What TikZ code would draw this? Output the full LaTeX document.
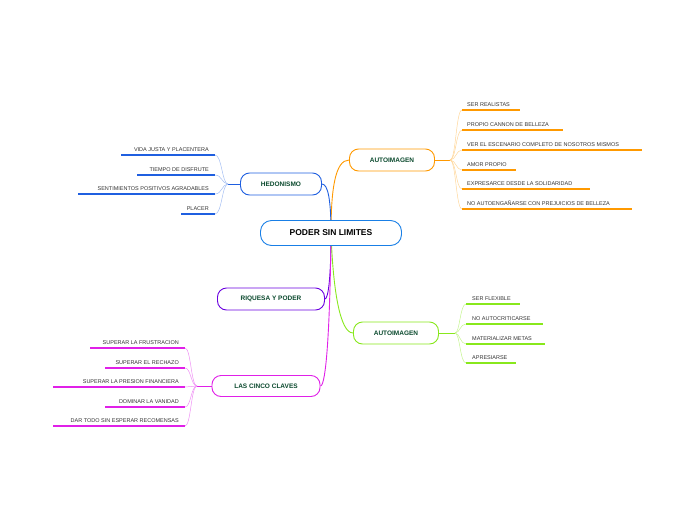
\documentclass[tikz,border=0pt]{standalone}
\usepackage{fontspec}
\setmainfont{Liberation Sans}
\begin{document}
\begin{tikzpicture}[x=1pt,y=-1pt,
 main/.style={draw,rounded corners=9pt,line width=0.9pt,fill=white,minimum height=22pt,font=\fontsize{6.5}{8}\selectfont\bfseries,text=tgreen},
 leaf/.style={font=\fontsize{5.5}{7}\selectfont,text=black!80,inner sep=1pt}]
\definecolor{tgreen}{HTML}{0B4A2E}
\definecolor{cor}{HTML}{FF9900}
\definecolor{cbl}{HTML}{1F5FE0}
\definecolor{cpu}{HTML}{6A00E0}
\definecolor{cgr}{HTML}{88E81C}
\definecolor{cma}{HTML}{E020E8}
\useasboundingbox (0,0) rectangle (697,520);
\node[main,draw=cor,minimum width=85pt] (a1) at (392,160) {AUTOIMAGEN};
\node[main,draw=cbl,minimum width=81pt] (he) at (281,184) {HEDONISMO};
\node[main,draw=cpu,minimum width=107pt] (rq) at (271,299) {RIQUESA Y PODER};
\node[main,draw=cgr,minimum width=85pt] (a2) at (396,333) {AUTOIMAGEN};
\node[main,draw=cma,minimum width=108pt,minimum height=21pt] (cc) at (266,386) {LAS CINCO CLAVES};
\coordinate (c0) at (331,233);
\draw[cor,line width=0.9pt] (c0) .. controls (331,190) and (335,160) .. (a1.west);
\draw[cbl,line width=0.9pt] (c0) .. controls (331,200) and (328,184) .. (he.east);
\draw[cpu,line width=0.9pt] (c0) .. controls (331,280) and (328,299) .. (rq.east);
\draw[cgr,line width=0.9pt] (c0) .. controls (333,290) and (340,333) .. (a2.west);
\draw[cma,line width=0.9pt] (c0) .. controls (330,330) and (326,386) .. (cc.east);
\node[main,draw=cbl!80!cyan,minimum width=141pt,minimum height=25pt,rounded corners=11pt,text=black,font=\fontsize{8.5}{10}\selectfont\bfseries] (c) at (331,233) {PODER SIN LIMITES};
% orange leaves
\coordinate (ja) at (450,160);
\draw[cor,line width=0.9pt] (a1.east) -- (ja);
\foreach \y/\e/\t [count=\i] in {110/520/SER REALISTAS,130/563/PROPIO CANNON DE BELLEZA,150/642/VER EL ESCENARIO COMPLETO DE NOSOTROS MISMOS,170/516/AMOR PROPIO,189/590/EXPRESARCE DESDE LA SOLIDARIDAD,209/632/NO AUTOENGAÑARSE CON PREJUICIOS DE BELLEZA}{
 \coordinate (o\i) at (462,\y);
 \draw[cor!40,line width=0.5pt] (ja) .. controls (456,160) and (456,\y) .. (o\i);
 \draw[cor,line width=1.2pt] (o\i) -- (\e,\y);
 \node[leaf,anchor=south west] (ot\i) at (466,\y-2) {\t};}
% green leaves
\coordinate (jg) at (455,333);
\draw[cgr,line width=0.9pt] (a2.east) -- (jg);
\foreach \y/\e/\t [count=\i] in {304/520/SER FLEXIBLE,324/543/NO AUTOCRITICARSE,344/545/MATERIALIZAR METAS,363/516/APRESIARSE}{
 \coordinate (g\i) at (466,\y);
 \draw[cgr!50,line width=0.5pt] (jg) .. controls (460,333) and (460,\y) .. (g\i);
 \draw[cgr,line width=1.2pt] (g\i) -- (\e,\y);
 \node[leaf,anchor=south west] (gt\i) at (471,\y-2) {\t};}
% blue leaves
\coordinate (jb) at (228,184);
\draw[cbl,line width=0.9pt] (he.west) -- (jb);
\foreach \y/\s/\t [count=\i] in {155/121/VIDA JUSTA Y PLACENTERA,175/137/TIEMPO DE DISFRUTE,194/78/SENTIMIENTOS POSITIVOS AGRADABLES,214/181/PLACER}{
 \coordinate (b\i) at (215,\y);
 \draw[cbl!40,line width=0.5pt] (jb) .. controls (222,184) and (222,\y) .. (b\i);
 \draw[cbl,line width=1.2pt] (b\i) -- (\s,\y);
 \node[leaf,anchor=south east] (bt\i) at (210,\y-2) {\t};}
% magenta leaves
\coordinate (jm) at (197,386);
\draw[cma,line width=0.9pt] (cc.west) -- (jm);
\foreach \y/\s/\t [count=\i] in {348/90/SUPERAR LA FRUSTRACION,368/105/SUPERAR EL RECHAZO,387/53/SUPERAR LA PRESION FINANCIERA,407/105/DOMINAR LA VANIDAD,426/53/DAR TODO SIN ESPERAR RECOMENSAS}{
 \coordinate (m\i) at (185,\y);
 \draw[cma!50,line width=0.5pt] (jm) .. controls (191,386) and (191,\y) .. (m\i);
 \draw[cma,line width=1.2pt] (m\i) -- (\s,\y);
 \node[leaf,anchor=south east] (mt\i) at (180,\y-2) {\t};}
\end{tikzpicture}
\end{document}
